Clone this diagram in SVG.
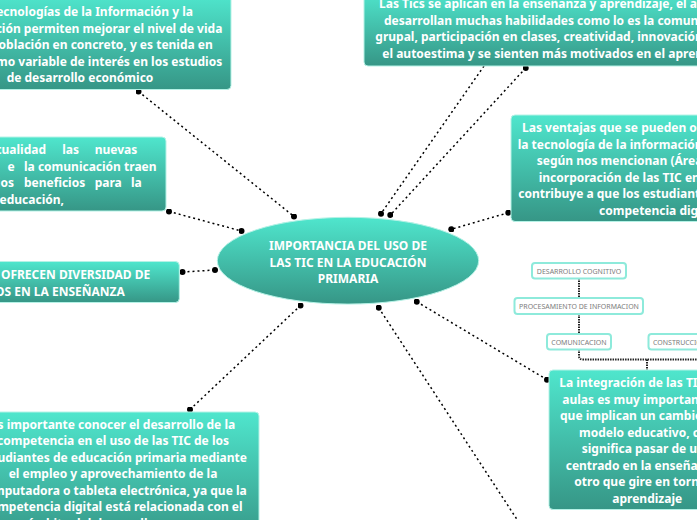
<svg xmlns="http://www.w3.org/2000/svg" width="697" height="520" viewBox="0 0 697 520">
<style>
text{font-family:"Noto Sans","DejaVu Sans",sans-serif}
.t{font-size:12px;font-weight:700;fill:#fff;text-anchor:middle}
.s{font-size:7px;fill:#7d7d7d;text-anchor:middle}
.l{text-anchor:start}
.e{text-anchor:end}
.b{fill:url(#g);stroke:#b5f2e6;stroke-width:1}
.m{fill:#fff;stroke:#8eeadb;stroke-width:2}
.c{fill:none;stroke:#000;stroke-width:1.5;stroke-dasharray:2 3}
.d{fill:none;stroke:#222;stroke-width:2;stroke-dasharray:1.500 1}
</style>
<defs>
<linearGradient id="g" x1="0" y1="0" x2="0" y2="1"><stop offset="0" stop-color="#4fe6cd"/><stop offset="1" stop-color="#369686"/></linearGradient>
<marker id="o" viewBox="0 0 6 6" refX="3" refY="3" markerWidth="6" markerHeight="6" markerUnits="userSpaceOnUse"><circle cx="3" cy="3" r="3" fill="#000"/></marker>
</defs>
<g id="connectors">
<path class="c" d="M138.500 91.500L294 216.500" marker-start="url(#o)" marker-end="url(#o)"/>
<path class="c" d="M169 211.500L241.500 231" marker-start="url(#o)" marker-end="url(#o)"/>
<path class="c" d="M182.500 272L215 270" marker-start="url(#o)" marker-end="url(#o)"/>
<path class="c" d="M190 409.500L300.500 305.500" marker-start="url(#o)" marker-end="url(#o)"/>
<path class="c" d="M484 66L381 213.700" marker-end="url(#o)"/>
<path class="c" d="M525.700 68L390.300 215" marker-start="url(#o)" marker-end="url(#o)"/>
<path class="c" d="M508.300 212.700L451.300 229.300" marker-start="url(#o)" marker-end="url(#o)"/>
<path class="c" d="M416.700 301.700L547 379.700" marker-start="url(#o)" marker-end="url(#o)"/>
<path class="c" d="M378.700 307.700L518 521" marker-start="url(#o)"/>
<path class="d" d="M579 278V298M579 314V334M579 349V356Q579 359.500 583 359.500H697M647 359.500V370"/>
</g>
<g id="n-center"><ellipse class="b" cx="348" cy="260.700" rx="130.700" ry="43.400"/>
<text class="t"><tspan x="348" y="250">IMPORTANCIA DEL USO DE</tspan><tspan x="348" y="266.500">LAS TIC EN LA EDUCACIÓN</tspan><tspan x="348" y="283">PRIMARIA</tspan></text></g>
<g id="n-top-left"><rect class="b" x="-70" y="-5" width="301" height="94.500" rx="4"/>
<text class="t"><tspan x="80" y="16">Las Tecnologías de la Información y la</tspan><tspan x="80" y="32.500">comunicación permiten mejorar el nivel de vida</tspan><tspan x="80" y="49">de una población en concreto, y es tenida en</tspan><tspan x="80" y="65.500">cuenta como variable de interés en los estudios</tspan><tspan x="80" y="82">de desarrollo económico</tspan></text></g>
<g id="n-left"><rect class="b" x="-60" y="137" width="226" height="74" rx="4"/>
<text class="t e"><tspan x="46" y="154">En la actualidad</tspan><tspan x="14.700" y="170.500">e</tspan><tspan x="14" y="187">varios</tspan><tspan x="64" y="204">a la educación,</tspan></text>
<text class="t l"><tspan x="62.300" y="154">las</tspan><tspan x="94.700" y="154">nuevas</tspan><tspan x="24" y="170.500">la comunicación traen</tspan><tspan x="24" y="187">beneficios</tspan><tspan x="94.700" y="187">para</tspan><tspan x="131" y="187">la</tspan></text></g>
<g id="n-ofrecen"><rect class="b" x="-120" y="261.500" width="299.300" height="41" rx="4"/>
<text class="t"><tspan x="52" y="279">LAS TIC OFRECEN DIVERSIDAD DE</tspan><tspan x="52" y="295.500">USOS EN LA ENSEÑANZA</tspan></text></g>
<g id="n-bottom-left"><rect class="b" x="-33" y="412" width="292" height="130" rx="4"/>
<text class="t"><tspan x="113" y="428.500">Es importante conocer el desarrollo de la</tspan><tspan x="113" y="445">competencia en el uso de las TIC de los</tspan><tspan x="113" y="461.500">estudiantes de educación primaria mediante</tspan><tspan x="113" y="478">el empleo y aprovechamiento de la</tspan><tspan x="113" y="494.500">computadora o tableta electrónica, ya que la</tspan><tspan x="113" y="511">competencia digital está relacionada con el</tspan></text>
<text class="t e" x="155" y="527.500">ámbito del desarrollo</text></g>
<g id="n-top"><rect class="b" x="364" y="-9" width="420" height="75" rx="4"/>
<text class="t l"><tspan x="379" y="8">Las Tics se aplican en la enseñanza y aprendizaje, el alumnado</tspan><tspan x="384" y="24.500">desarrollan muchas habilidades como lo es la comunicación</tspan><tspan x="375.300" y="41">grupal, participación en clases, creatividad, innovación, mejoran</tspan><tspan x="382.300" y="57.500">el autoestima y se sienten más motivados en el aprendizaje</tspan></text></g>
<g id="n-right"><rect class="b" x="511" y="115" width="294" height="106.500" rx="4"/>
<text class="t l"><tspan x="522" y="132">Las ventajas que se pueden obtener de</tspan><tspan x="517.700" y="148.500">la tecnología de la información son muchas</tspan><tspan x="536.700" y="165">según nos mencionan (Área, 2009)</tspan><tspan x="538.700" y="181.500">incorporación de las TIC en la escuela</tspan><tspan x="518.300" y="198">contribuye a que los estudiantes adquieran</tspan><tspan x="599" y="214.500">competencia digital</tspan></text></g>
<g id="n-integracion"><rect class="b" x="549" y="370" width="196" height="139.500" rx="4"/>
<text class="t l"><tspan x="559.300" y="387">La integración de las TIC en las</tspan><tspan x="562.300" y="403.500">aulas es muy importante ya</tspan><tspan x="560" y="420">que implican un cambio de</tspan><tspan x="579" y="436.500">modelo educativo, con</tspan><tspan x="581.700" y="453">significa pasar de uno</tspan><tspan x="565.700" y="469.500">centrado en la enseñanza a</tspan><tspan x="574.300" y="486">otro que gire en torno al</tspan><tspan x="612.300" y="502.500">aprendizaje</tspan></text></g>
<g id="n-desarrollo"><rect class="m" x="532" y="263" width="94" height="15.500" rx="3"/><text class="s" x="579" y="273.500">DESARROLLO COGNITIVO</text></g>
<g id="n-procesamiento"><rect class="m" x="514.500" y="298" width="128.500" height="16" rx="3"/><text class="s" x="579" y="309">PROCESAMIENTO DE INFORMACION</text></g>
<g id="n-comunicacion"><rect class="m" x="547" y="334" width="64" height="15.500" rx="3"/><text class="s" x="579" y="345">COMUNICACION</text></g>
<g id="n-construccion"><rect class="m" x="648.500" y="334" width="80" height="15.500" rx="3"/><text class="s l" x="653" y="345">CONSTRUCCION</text></g>
</svg>
